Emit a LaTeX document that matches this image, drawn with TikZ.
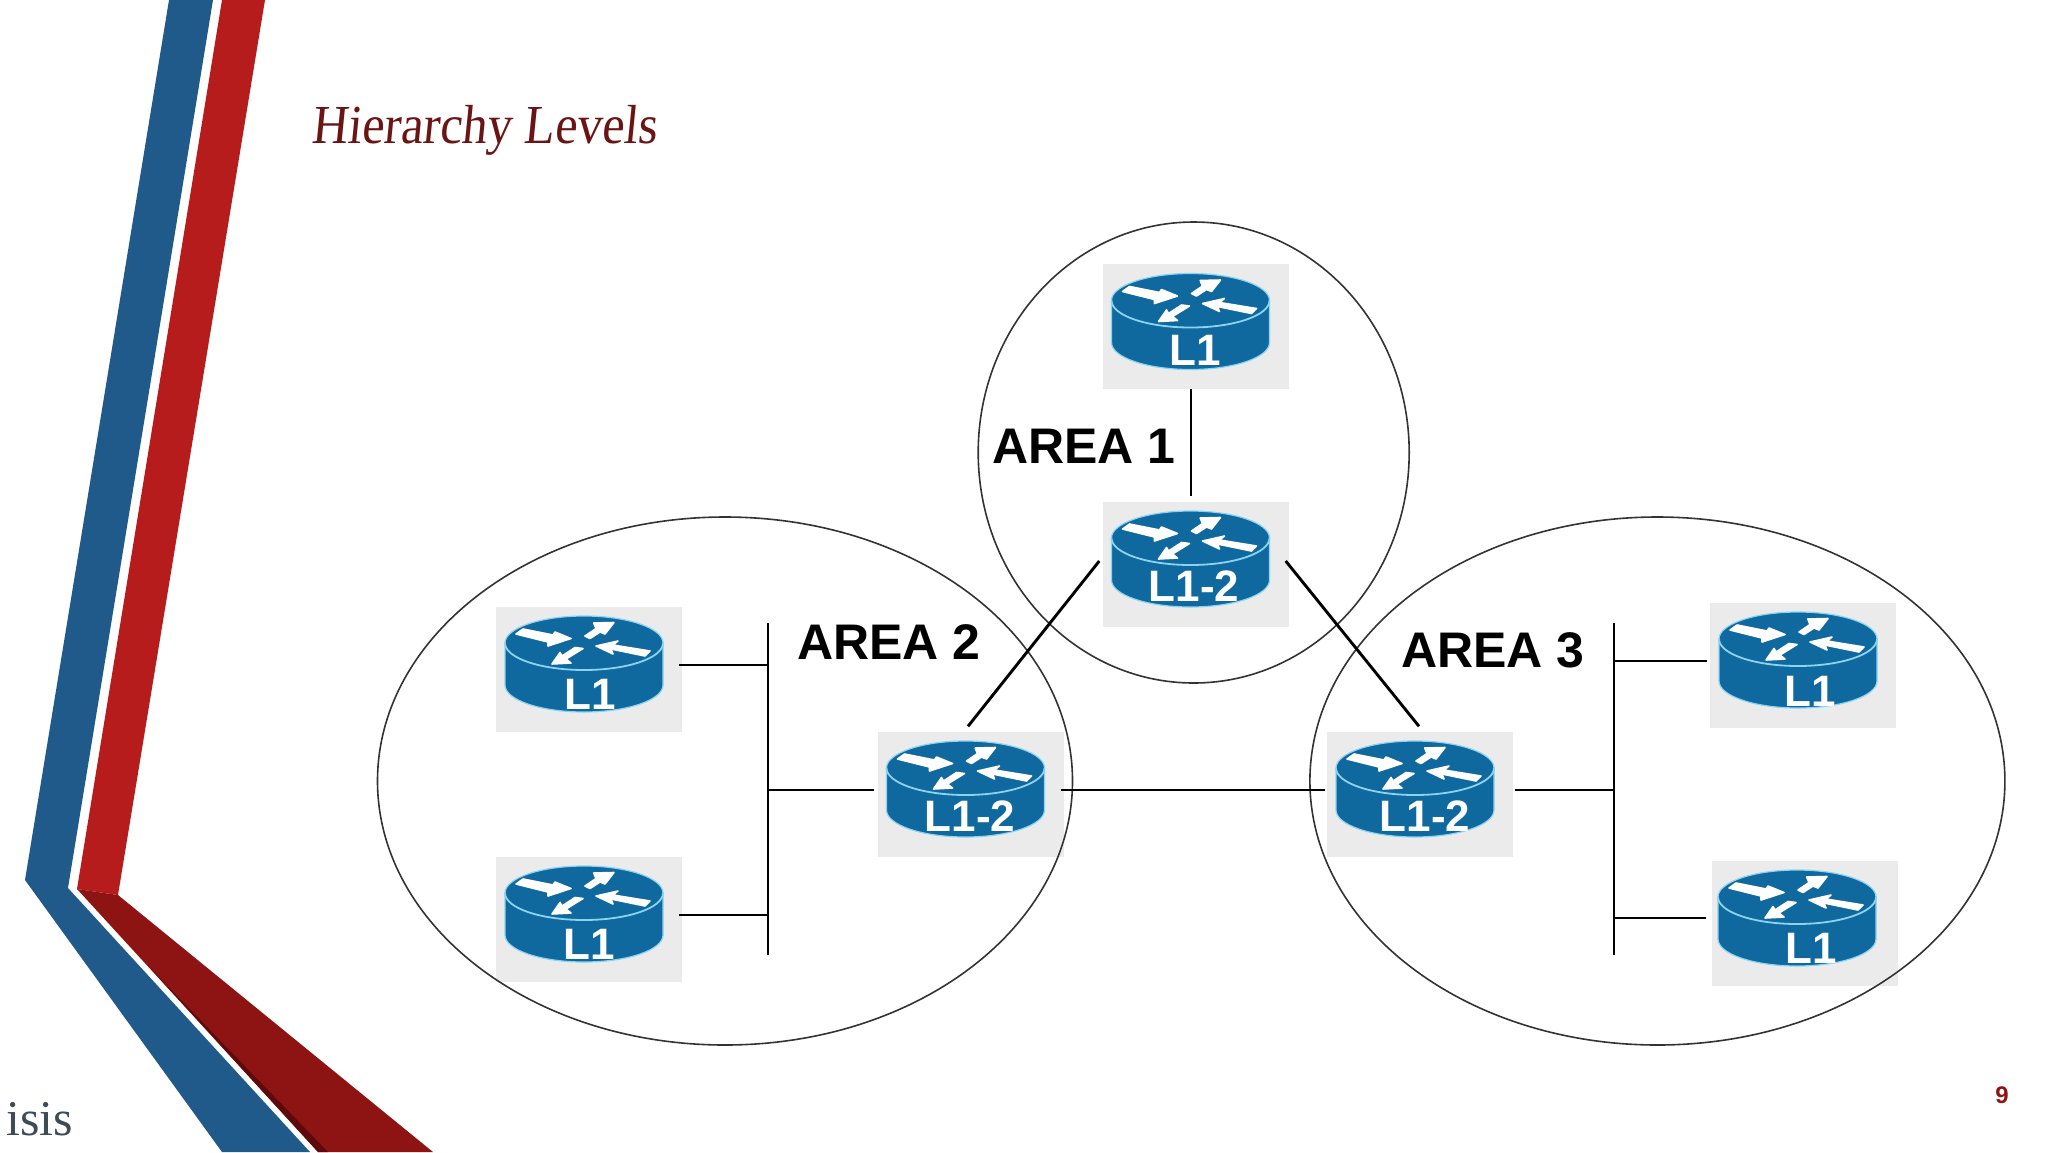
\documentclass[tikz,border=0pt]{standalone}
\usepackage{fontspec}
\setmainfont{Liberation Sans}
\newfontfamily\serifx{Liberation Serif}
\newfontfamily\titlefont[FakeStretch=0.91,FakeSlant=0.1]{Liberation Serif}
\usetikzlibrary{shapes.geometric,arrows.meta}
\definecolor{ribblue}{HTML}{1F5A8B}
\definecolor{ribred}{HTML}{B71C1C}
\definecolor{ribdark}{HTML}{8E1414}
\definecolor{ribdeep}{HTML}{5E0A0A}
\definecolor{titlecol}{HTML}{6B1414}
\definecolor{isiscol}{HTML}{3E4B57}
\definecolor{routerblue}{HTML}{10699E}
\definecolor{routeredge}{HTML}{8AD4F2}
\definecolor{boxgray}{HTML}{EBEBEB}
\tikzset{
  area/.style={ellipse,draw=black!80,line width=1.6pt,minimum width=#1,inner sep=0pt},
  routerbox/.style={rectangle,fill=boxgray,minimum width=186pt,minimum height=125pt,inner sep=0pt},
  link/.style={draw=black,line width=2.9pt},
  arealabel/.style={font=\bfseries\fontsize{50}{50}\selectfont,text=black,inner sep=0pt},
  routertext/.style={font=\bfseries\fontsize{44}{44}\selectfont,text=white,inner sep=0pt,anchor=base},
  flow/.style={draw=white,line width=1.6pt,line join=round,fill=white},
  router/.pic={
    \fill[routerblue,draw=routeredge,line width=1.2pt]
      (-84,-26) arc[start angle=180,end angle=360,x radius=79,y radius=27]
      -- (74,16) arc[start angle=0,end angle=180,x radius=79,y radius=27] -- cycle;
    \draw[routeredge,line width=1.8pt]
      (-84,-26) arc[start angle=180,end angle=0,x radius=79,y radius=27];
    \path[flow] (-66,-40) -- (-36,-34) -- (-34,-37) -- (-18,-30.5) -- (-41,-23) -- (-41,-27) -- (-73,-35) -- cycle;
    \path[flow] (-4,-33) -- (7,-40.5) -- (4.7,-46) -- (25,-46.5) -- (16,-35) -- (11,-37) -- (1,-30.5) -- cycle;
    \path[flow] (61,-18) -- (24,-24) -- (29,-28) -- (7,-23) -- (24,-15) -- (22,-20) -- (56,-13) -- cycle;
    \path[flow] (-6,-20.5) -- (-23,-10) -- (-18,-6) -- (-37,-5) -- (-29,-16.5) -- (-27,-13) -- (-14,-21.5) -- cycle;
  }
}
\begin{document}
\begin{tikzpicture}[x=1pt,y=-1pt]
\useasboundingbox (0,0) rectangle (2048,1152);
% ribbons
\fill[ribblue] (169,0) -- (213,0) -- (68,888) -- (310,1152) -- (222,1152) -- (25,880) -- cycle;
\fill[ribred] (222,0) -- (265,0) -- (118,895) -- (77,889) -- cycle;
\fill[ribdark] (77,889) -- (118,895) -- (433,1152) -- (318,1152) -- cycle;
\fill[ribdeep] (150,968) -- (328,1152) -- (318,1152) -- cycle;
% texts of the slide
\node[anchor=base west,inner sep=0pt,text=titlecol,font=\titlefont\fontsize{55}{55}\selectfont] (title) at (311,143) {Hierarchy Levels};
\node[anchor=base west,inner sep=0pt,text=isiscol,font=\serifx\fontsize{50}{50}\selectfont] (isis) at (6,1135) {isis};
\node[text=ribdark,font=\bfseries\fontsize{24}{24}\selectfont,inner sep=0pt] (pageno) at (2002,1095) {9};
% router plates
\node[routerbox] (rt) at (1195.5,326.5) {};
\node[routerbox] (rc) at (1195.5,564) {};
\node[routerbox] (lt) at (589,669) {};
\node[routerbox] (lb) at (589,919) {};
\node[routerbox] (lm) at (970.5,794) {};
\node[routerbox] (rm) at (1420,794) {};
\node[routerbox] (ut) at (1803,665) {};
\node[routerbox] (ub) at (1804.5,923) {};
% areas
\node[area=431pt,minimum height=461pt] (a1) at (1193.7,452.5) {};
\node[area=695pt,minimum height=528pt] (a2) at (725,781) {};
\node[area=695pt,minimum height=528pt] (a3) at (1657.4,781) {};
% routers
\pic at (rt) {router};
\pic at (rc) {router};
\pic at (lt) {router};
\pic at (lb) {router};
\pic at (lm) {router};
\pic at (rm) {router};
\pic at (ut) {router};
\pic[xshift=-2.5pt] at (ub) {router};
% router names
\node[routertext] (nrt) at (1195,365) {L1};
\node[routertext] (nrc) at (1194,601) {L1-2};
\node[routertext] (nlt) at (590,709) {L1};
\node[routertext] (nlb) at (589,959) {L1};
\node[routertext] (nlm) at (970,831) {L1-2};
\node[routertext] (nrm) at (1425,831) {L1-2};
\node[routertext] (nut) at (1810,706) {L1};
\node[routertext] (nub) at (1811,963) {L1};
% bus end points and taps
\coordinate (blt) at (768,623);
\coordinate (blb) at (768,955);
\coordinate (brt) at (1614,623);
\coordinate (brb) at (1614,955);
\coordinate (tl1) at (768,665);
\coordinate (tl2) at (768,790);
\coordinate (tl3) at (768,915);
\coordinate (tr1) at (1614,661);
\coordinate (tr2) at (1614,790);
\coordinate (tr3) at (1614,918);
\coordinate (vx) at (1191,450);
% connectors
\draw[link] (blt) -- (blb);
\draw[link] (brt) -- (brb);
\draw[link,shorten >=5pt] (vx |- rt.south) -- (vx |- rc.north);
\draw[link] ([xshift=-3pt,yshift=3pt]rc.west) -- ([xshift=-2.5pt,yshift=5pt]lm.north);
\draw[link] ([xshift=-3pt,yshift=3pt]rc.east) -- ([xshift=-1pt,yshift=5pt]rm.north);
\draw[link,shorten <=-3pt] (tl1 -| lt.east) -- (tl1);
\draw[link,shorten <=-3pt] (tl3 -| lb.east) -- (tl3);
\draw[link,shorten >=3pt] (tl2) -- (tl2 -| lm.west);
\draw[link,shorten <=-3pt,shorten >=2pt] (tl2 -| lm.east) -- (tl2 -| rm.west);
\draw[link,shorten <=2pt] (tr2 -| rm.east) -- (tr2);
\draw[link,shorten >=3pt] (tr1) -- (tr1 -| ut.west);
\draw[link,shorten >=5pt] (tr3) -- (tr3 -| ub.west);
% area labels
\node[arealabel] (la1) at (1084,446) {AREA 1};
\node[arealabel] (la2) at (889,642) {AREA 2};
\node[arealabel] (la3) at (1493,650) {AREA 3};
\end{tikzpicture}
\end{document}
